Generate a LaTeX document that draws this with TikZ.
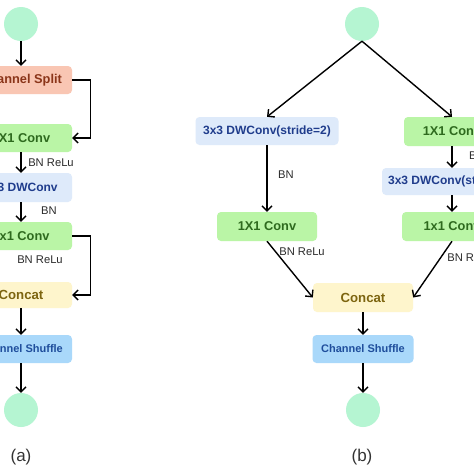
\documentclass[tikz,border=0pt]{standalone}
\usepackage{fontspec}
\setmainfont{Liberation Sans}
\usetikzlibrary{arrows.meta}
\definecolor{circ}{HTML}{B5F5D2}
\definecolor{splitfill}{HTML}{F9C6B3}
\definecolor{splittext}{HTML}{8B3519}
\definecolor{greenfill}{HTML}{BAF5A6}
\definecolor{greentext}{HTML}{2E6A1E}
\definecolor{dwfill}{HTML}{DEEAFA}
\definecolor{dwtext}{HTML}{1F3C8C}
\definecolor{catfill}{HTML}{FEF5CC}
\definecolor{cattext}{HTML}{7D6510}
\definecolor{shfill}{HTML}{A9D8FA}
\definecolor{shtext}{HTML}{1F4E9C}
\definecolor{lbl}{HTML}{2A2A2A}
\tikzset{
  box/.style={rounded corners=4pt, inner sep=0pt, font=\bfseries\fontsize{12.8}{14}\selectfont, minimum height=28pt},
  splitbox/.style={box, fill=splitfill, text=splittext},
  convbox/.style={box, fill=greenfill, text=greentext},
  dwbox/.style={box, fill=dwfill, text=dwtext, font=\bfseries\fontsize{12}{14}\selectfont},
  catbox/.style={box, fill=catfill, text=cattext, font=\bfseries\fontsize{13.2}{14}\selectfont},
  shbox/.style={box, fill=shfill, text=shtext, font=\bfseries\fontsize{11}{13}\selectfont},
  dot/.style={circle, fill=circ, minimum size=34pt, inner sep=0pt},
  lab/.style={text=lbl, font=\fontsize{11.2}{13}\selectfont, inner sep=0pt},
  captext/.style={font=\fontsize{17}{19}\selectfont, text=black!80, inner sep=0pt},
  arr/.style={-{Straight Barb[length=5pt,width=10pt]}, line width=1.4pt, black}
}
\begin{document}
\begin{tikzpicture}[x=1pt,y=-1pt]
\useasboundingbox (0,0) rectangle (474,474);
\clip (0,0) rectangle (474,474);
\fill[white] (0,0) rectangle (474,474);
% (a)
\node[dot] (ca1) at (21,24) {};
\node[splitbox, minimum width=102pt] (cs) at (21,80) {Channel Split};
\node[convbox, minimum width=102pt] (a1) at (21,138) {1X1 Conv};
\node[dwbox, minimum width=102pt, minimum height=29pt] (a2) at (21,187.5) {3x3 DWConv};
\node[convbox, minimum width=102pt] (a3) at (21,236) {1x1 Conv};
\node[catbox, minimum width=102pt, minimum height=26pt] (ac) at (21,295) {Concat};
\node[shbox, minimum width=102pt] (ash) at (21,349) {Channel Shuffle};
\node[dot] (ca2) at (21,410) {};
\node[captext] (capa) at (21,457) {(a)};
\node[lab] (la1) at (51,163) {BN ReLu};
\node[lab] (la2) at (49,211) {BN};
\node[lab] (la3) at (40,260) {BN ReLu};
\draw[arr] (ca1) -- (cs);
\draw[arr] (cs.east) -- ++(18,0) |- (a1.east);
\draw[arr] (a1) -- (a2);
\draw[arr] (a2) -- (a3);
\draw[arr] (a3.east) -- ++(18,0) |- (ac.east);
\draw[arr] (ac) -- (ash);
\draw[arr] (ash) -- (ca2);
% (b)
\node[dot] (cb1) at (362,24) {};
\node[dwbox, minimum width=143pt] (b1) at (267,131) {3x3 DWConv(stride=2)};
\node[convbox, minimum width=100pt, minimum height=29pt] (b2) at (267,226.5) {1X1 Conv};
\node[convbox, minimum width=96pt, minimum height=29pt] (b3) at (452,131.5) {1X1 Conv};
\node[dwbox, minimum width=140pt, minimum height=27pt] (b4) at (452,181.5) {3x3 DWConv(stride=2)};
\node[convbox, minimum width=100pt, minimum height=29pt] (b5) at (452,226.5) {1x1 Conv};
\node[catbox, minimum width=100pt, minimum height=29pt] (bc) at (363,297.5) {Concat};
\node[shbox, minimum width=101pt] (bsh) at (363,349) {Channel Shuffle};
\node[dot] (cb2) at (363,410) {};
\node[captext] (capb) at (362,457) {(b)};
\node[lab] (lb1) at (286,175) {BN};
\node[lab] (lb2) at (302,252) {BN ReLu};
\node[lab] (lb3) at (477,156) {BN};
\node[lab] (lb4) at (470,258) {BN ReLu};
\draw[arr] (cb1.south) -- (b1.north);
\draw[arr] (cb1.south) -- (b3.north);
\draw[arr] (b1) -- (b2);
\draw[arr] (b2.south) -- (bc.west);
\draw[arr] (b3) -- (b4);
\draw[arr] (b4) -- (b5);
\draw[arr] (b5.south) -- (bc.east);
\draw[arr] (bc) -- (bsh);
\draw[arr] (bsh) -- (cb2);
\end{tikzpicture}
\end{document}
